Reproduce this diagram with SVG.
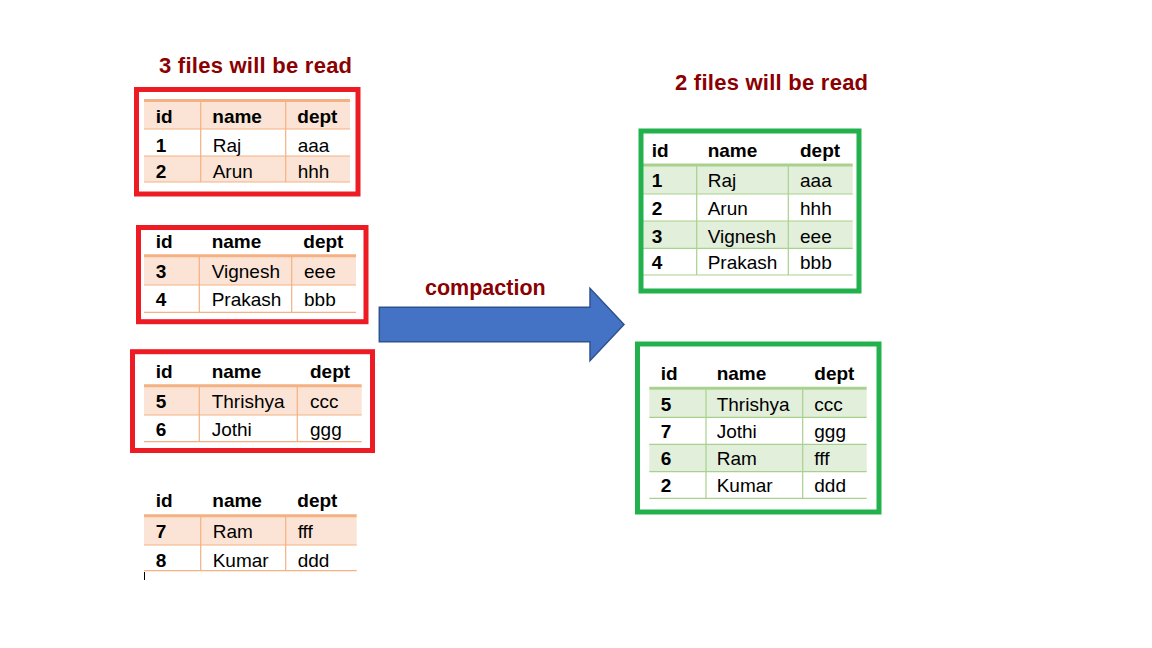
<svg xmlns="http://www.w3.org/2000/svg" width="1152" height="648" viewBox="0 0 1152 648">
<style>
text{font-family:"Liberation Sans",Arial,sans-serif;font-size:19px;fill:#000}
.b{font-weight:bold}
.title{font-weight:bold;font-size:22px;fill:#8B0000;letter-spacing:0.25px}
.pf{fill:#FBE4D5}
.gf{fill:#E2EFDA}
.po{stroke:#F4B183;stroke-width:1.2;fill:none}
.pt{stroke:#F4B183;stroke-width:3;fill:none}
.go{stroke:#A9D18E;stroke-width:1.2;fill:none}
.gt{stroke:#A9D18E;stroke-width:3;fill:none}
.rbox{fill:none;stroke:#ED1C24;stroke-width:5}
.gbox{fill:none;stroke:#22B14C;stroke-width:5}
</style>
<rect width="1152" height="648" fill="#fff"/>

<text class="title" x="159" y="73">3 files will be read</text>
<text class="title" x="675" y="90">2 files will be read</text>

<g id="file1">
<rect class="pf" x="144" y="100" width="206" height="29"/>
<rect class="pf" x="144" y="156" width="206" height="26"/>
<path class="pt" d="M144 100.5H350"/>
<path class="po" d="M144 129H350M144 156H350M144 182H350M200.7 102V182M285.7 102V182"/>
<text class="b" x="155.7" y="122.7">id</text><text class="b" x="212.3" y="122.7">name</text><text class="b" x="297.3" y="122.7">dept</text>
<text class="b" x="155.7" y="151.7">1</text><text x="212.7" y="151.7">Raj</text><text x="297.7" y="151.7">aaa</text>
<text class="b" x="155.7" y="177.7">2</text><text x="212.7" y="177.7">Arun</text><text x="297.7" y="177.7">hhh</text>
<rect class="rbox" x="136.5" y="89.5" width="221.5" height="104.5"/>
</g>

<g id="file2">
<rect class="pf" x="144" y="257" width="212" height="28"/>
<path class="pt" d="M144 255.7H356"/>
<path class="po" d="M144 285H356M144 312.3H356M199.3 257V312.3M291.7 257V312.3"/>
<text class="b" x="155.7" y="248.3">id</text><text class="b" x="211.7" y="248.3">name</text><text class="b" x="303.3" y="248.3">dept</text>
<text class="b" x="155.7" y="278.3">3</text><text x="211.7" y="278.3">Vignesh</text><text x="304" y="278.3">eee</text>
<text class="b" x="155.7" y="306">4</text><text x="211.7" y="306">Prakash</text><text x="304" y="306">bbb</text>
<rect class="rbox" x="138.5" y="227.5" width="227.5" height="94.2"/>
</g>

<g id="file3">
<rect class="pf" x="144" y="387" width="217.7" height="28"/>
<path class="pt" d="M144 385.7H361.7"/>
<path class="po" d="M144 415H361.7M144 441.7H361.7M199.3 387V441.7M297.3 387V441.7"/>
<text class="b" x="155.7" y="378.3">id</text><text class="b" x="211.7" y="378.3">name</text><text class="b" x="310" y="378.3">dept</text>
<text class="b" x="155.7" y="408.3">5</text><text x="211.7" y="408.3">Thrishya</text><text x="310" y="408.3">ccc</text>
<text class="b" x="155.7" y="436">6</text><text x="211.7" y="436">Jothi</text><text x="310" y="436">ggg</text>
<rect class="rbox" x="132.5" y="351.7" width="240" height="98.8"/>
</g>

<g id="file4">
<rect class="pf" x="144" y="517" width="212.7" height="28"/>
<path class="pt" d="M144 515.7H356.7"/>
<path class="po" d="M144 545H356.7M144 570.7H356.7M200.7 517V570.7M285.7 517V570.7"/>
<text class="b" x="155.7" y="506.7">id</text><text class="b" x="212.3" y="506.7">name</text><text class="b" x="297.3" y="506.7">dept</text>
<text class="b" x="155.7" y="538.3">7</text><text x="212.7" y="538.3">Ram</text><text x="297.7" y="538.3">fff</text>
<text class="b" x="155.7" y="567.3">8</text><text x="212.7" y="567.3">Kumar</text><text x="297.7" y="567.3">ddd</text>
<path d="M144.5 572V580" stroke="#000" stroke-width="1"/>
</g>

<g id="compacted1">
<rect class="gf" x="642.7" y="166" width="210" height="28"/>
<rect class="gf" x="642.7" y="221" width="210" height="27.3"/>
<path class="gt" d="M642.7 165H852.7"/>
<path class="go" d="M642.7 194H852.7M642.7 221H852.7M642.7 248.3H852.7M642.7 275H852.7M696.7 166V275M788.3 166V275"/>
<text class="b" x="651.7" y="157.3">id</text><text class="b" x="707.7" y="157.3">name</text><text class="b" x="800" y="157.3">dept</text>
<text class="b" x="651.7" y="187.3">1</text><text x="707.7" y="187.3">Raj</text><text x="800" y="187.3">aaa</text>
<text class="b" x="651.7" y="215">2</text><text x="707.7" y="215">Arun</text><text x="800" y="215">hhh</text>
<text class="b" x="651.7" y="242.7">3</text><text x="707.7" y="242.7">Vignesh</text><text x="800" y="242.7">eee</text>
<text class="b" x="651.7" y="269.3">4</text><text x="707.7" y="269.3">Prakash</text><text x="800" y="269.3">bbb</text>
<rect class="gbox" x="641" y="131" width="218" height="160"/>
</g>

<g id="compacted2">
<rect class="gf" x="649.3" y="389.5" width="217.4" height="27.8"/>
<rect class="gf" x="649.3" y="444.3" width="217.4" height="27.4"/>
<path class="gt" d="M649.3 388.3H866.7"/>
<path class="go" d="M649.3 417.3H866.7M649.3 444.3H866.7M649.3 471.7H866.7M649.3 498.3H866.7M706 389.5V498.3M802.7 389.5V498.3"/>
<text class="b" x="660.7" y="380">id</text><text class="b" x="716.7" y="380">name</text><text class="b" x="814.3" y="380">dept</text>
<text class="b" x="660.7" y="410.7">5</text><text x="716.7" y="410.7">Thrishya</text><text x="814.3" y="410.7">ccc</text>
<text class="b" x="660.7" y="438.3">7</text><text x="716.7" y="438.3">Jothi</text><text x="814.3" y="438.3">ggg</text>
<text class="b" x="660.7" y="465">6</text><text x="716.7" y="465">Ram</text><text x="814.3" y="465">fff</text>
<text class="b" x="660.7" y="491.7">2</text><text x="716.7" y="491.7">Kumar</text><text x="814.3" y="491.7">ddd</text>
<rect class="gbox" x="637.5" y="344" width="241.5" height="168"/>
</g>

<g id="connectors">
<polygon points="379.3,307.3 590,307.3 590,288.3 624,324.5 590,360.7 590,341.7 379.3,341.7" fill="#4472C4" stroke="#2F528F" stroke-width="1.5" stroke-linejoin="miter"/>
<text class="title" x="425" y="295" style="font-size:21.5px;letter-spacing:0">compaction</text>
</g>
</svg>
